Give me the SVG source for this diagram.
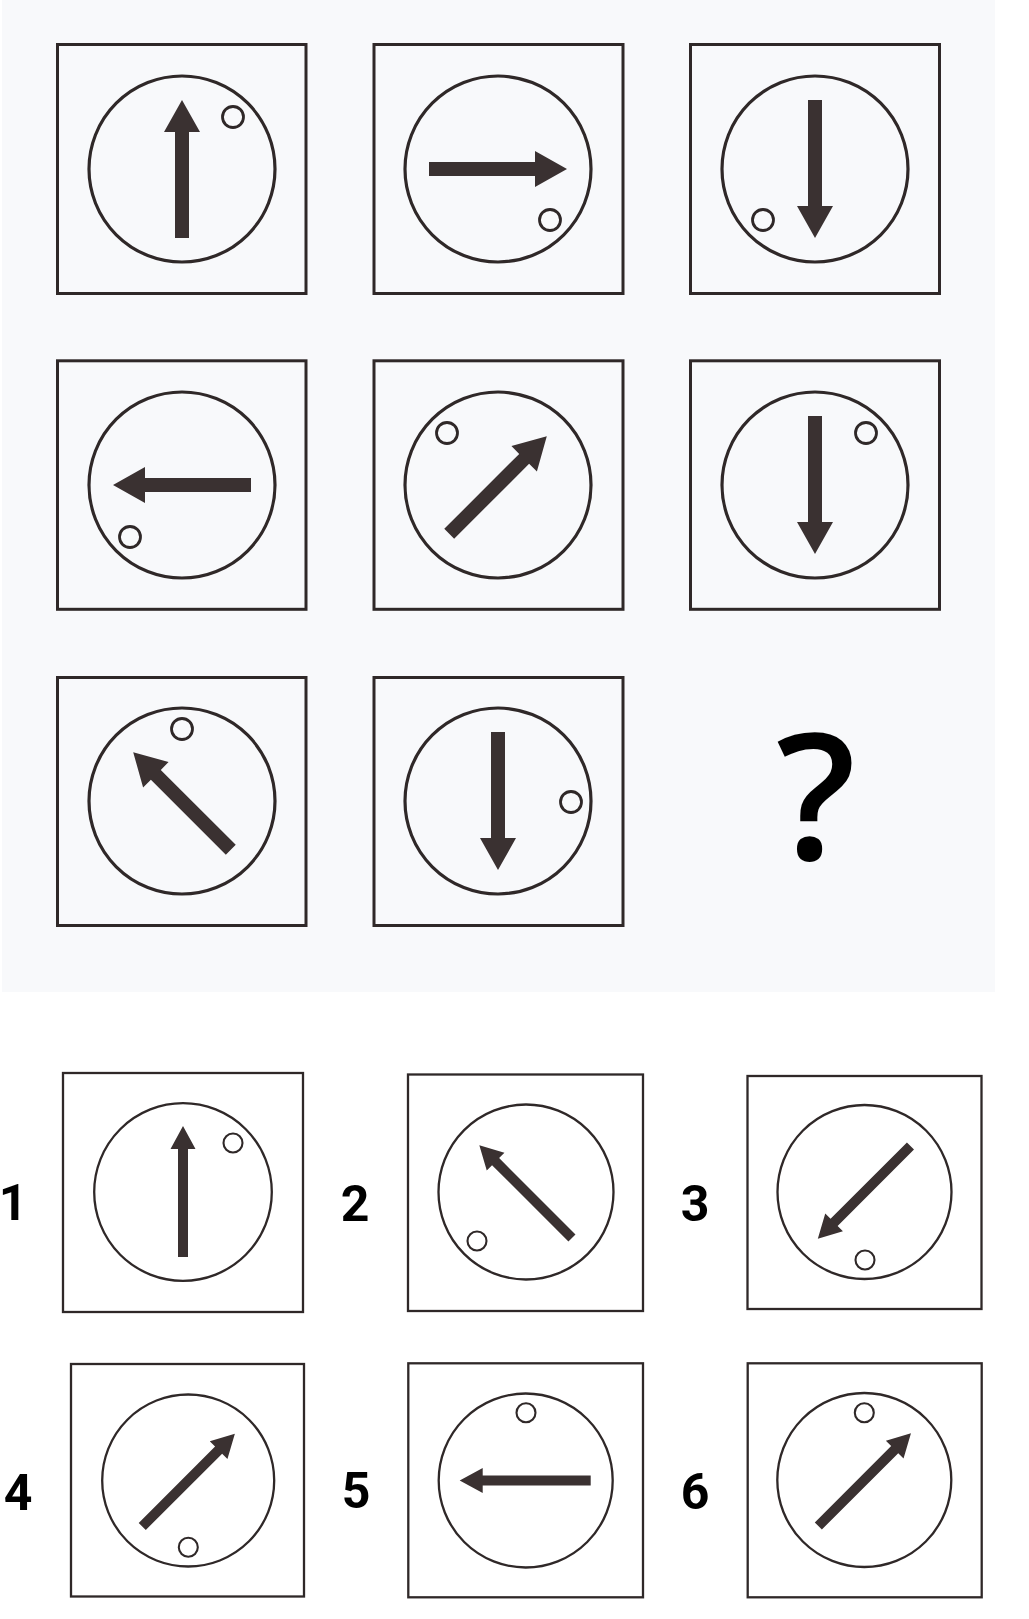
<svg xmlns="http://www.w3.org/2000/svg" xmlns:xlink="http://www.w3.org/1999/xlink" width="1029" height="1619" viewBox="0 0 1029 1619">
<style>
.box{fill:none;stroke:#2f2828;stroke-width:3}
.ring{fill:none;stroke:#2f2828;stroke-width:3.2}
.dot{fill:none;stroke:#2f2828;stroke-width:2.8}
.obox{fill:none;stroke:#2f2828;stroke-width:2.3}
.oring{fill:none;stroke:#2f2828;stroke-width:2.3}
.odot{fill:none;stroke:#2f2828;stroke-width:2.1}
.arr{fill:#3a3131}
.lbl{font-family:Roboto,"Liberation Sans",Arial,sans-serif;font-weight:700;font-size:50px;fill:#000;text-anchor:middle}
.q{font-family:"Open Sans","Noto Sans","Liberation Sans",sans-serif;font-weight:600;font-size:176px;fill:#000;text-anchor:middle}
</style>
<defs>
<g id="bigArrow"><polygon class="arr" points="-69,-7 37,-7 37,-18 69,0 37,18 37,7 -69,7"/></g>
<g id="smallArrow"><polygon class="arr" points="-65,-5 43,-5 43,-12.5 66,0 43,12.5 43,5 -65,5"/></g>
</defs>
<rect x="2" y="0" width="993" height="992" fill="#f8f9fb"/>
<rect x="0" y="992" width="1029" height="627" fill="#ffffff"/>
<rect x="995" y="0" width="34" height="992" fill="#ffffff"/>

<g id="cell1">
<rect class="box" x="57.5" y="44.5" width="248.5" height="249"/>
<circle class="ring" cx="182" cy="169" r="93"/>
<use xlink:href="#bigArrow" transform="translate(182,169) rotate(-90)"/>
<circle class="dot" cx="233" cy="117" r="10.5"/>
</g>
<g id="cell2">
<rect class="box" x="374" y="44.5" width="249" height="249"/>
<circle class="ring" cx="498" cy="169" r="93"/>
<use xlink:href="#bigArrow" transform="translate(498,169)"/>
<circle class="dot" cx="550" cy="220" r="10.5"/>
</g>
<g id="cell3">
<rect class="box" x="690.5" y="44.5" width="249" height="249"/>
<circle class="ring" cx="815" cy="169" r="93"/>
<use xlink:href="#bigArrow" transform="translate(815,169) rotate(90)"/>
<circle class="dot" cx="763" cy="220" r="10.5"/>
</g>
<g id="cell4">
<rect class="box" x="57.5" y="360.8" width="248.5" height="248.5"/>
<circle class="ring" cx="182" cy="485" r="93"/>
<use xlink:href="#bigArrow" transform="translate(182,485) rotate(180)"/>
<circle class="dot" cx="130" cy="537" r="10.5"/>
</g>
<g id="cell5">
<rect class="box" x="374" y="360.8" width="249" height="248.5"/>
<circle class="ring" cx="498" cy="485" r="93"/>
<use xlink:href="#bigArrow" transform="translate(498,485) rotate(-45)"/>
<circle class="dot" cx="447" cy="433" r="10.5"/>
</g>
<g id="cell6">
<rect class="box" x="690.5" y="360.8" width="249" height="248.5"/>
<circle class="ring" cx="815" cy="485" r="93"/>
<use xlink:href="#bigArrow" transform="translate(815,485) rotate(90)"/>
<circle class="dot" cx="866" cy="433" r="10.5"/>
</g>
<g id="cell7">
<rect class="box" x="57.5" y="677.5" width="248.5" height="248"/>
<circle class="ring" cx="182" cy="801" r="93"/>
<use xlink:href="#bigArrow" transform="translate(182,801) rotate(-135)"/>
<circle class="dot" cx="182" cy="729" r="10.5"/>
</g>
<g id="cell8">
<rect class="box" x="374" y="677.5" width="249" height="248"/>
<circle class="ring" cx="498" cy="801" r="93"/>
<use xlink:href="#bigArrow" transform="translate(498,801) rotate(90)"/>
<circle class="dot" cx="571" cy="802" r="10.5"/>
</g>
<g id="cell9">
<text class="q" x="816" y="860">?</text>
</g>

<g id="option1">
<text class="lbl" x="13" y="1220">1</text>
<rect class="obox" x="63" y="1073" width="240" height="239"/>
<circle class="oring" cx="183" cy="1192" r="88.8"/>
<use xlink:href="#smallArrow" transform="translate(183,1192) rotate(-90)"/>
<circle class="odot" cx="233" cy="1143" r="9.5"/>
</g>
<g id="option2">
<text class="lbl" x="355" y="1221">2</text>
<rect class="obox" x="408" y="1074.5" width="235" height="236.5"/>
<circle class="oring" cx="526" cy="1192" r="87.5"/>
<use xlink:href="#smallArrow" transform="translate(526,1192) rotate(-135)"/>
<circle class="odot" cx="477" cy="1241" r="9.5"/>
</g>
<g id="option3">
<text class="lbl" x="695" y="1221">3</text>
<rect class="obox" x="747.5" y="1076" width="234" height="233"/>
<circle class="oring" cx="864.5" cy="1192" r="87"/>
<use xlink:href="#smallArrow" transform="translate(864.5,1192) rotate(135)"/>
<circle class="odot" cx="865" cy="1260" r="9.5"/>
</g>
<g id="option4">
<text class="lbl" x="18" y="1510">4</text>
<rect class="obox" x="71" y="1364" width="233" height="232.5"/>
<circle class="oring" cx="188.2" cy="1480.5" r="86"/>
<use xlink:href="#smallArrow" transform="translate(188.2,1480.5) rotate(-45)"/>
<circle class="odot" cx="188.3" cy="1547.3" r="9.5"/>
</g>
<g id="option5">
<text class="lbl" x="356" y="1508">5</text>
<rect class="obox" x="408.3" y="1363.3" width="234.7" height="234"/>
<circle class="oring" cx="525.7" cy="1480.5" r="87"/>
<use xlink:href="#smallArrow" transform="translate(525.7,1480.5) rotate(180)"/>
<circle class="odot" cx="526" cy="1412.7" r="9.5"/>
</g>
<g id="option6">
<text class="lbl" x="695" y="1509">6</text>
<rect class="obox" x="747.7" y="1363.3" width="234" height="234"/>
<circle class="oring" cx="864.3" cy="1480" r="87"/>
<use xlink:href="#smallArrow" transform="translate(864.3,1480) rotate(-45)"/>
<circle class="odot" cx="864.3" cy="1412.7" r="9.5"/>
</g>
<g id="connectors"/>
</svg>
